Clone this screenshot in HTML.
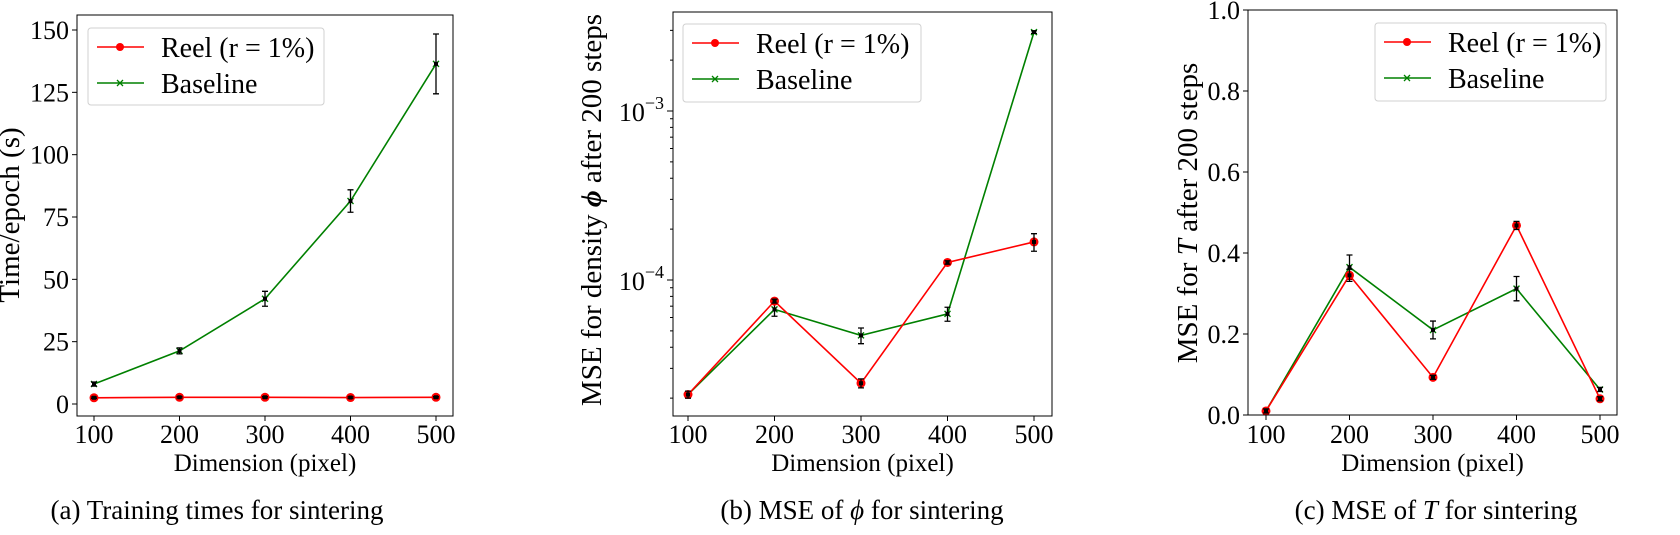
<!DOCTYPE html>
<html><head><meta charset="utf-8"><style>
body{margin:0;background:#fff;width:1680px;height:530px;overflow:hidden}
svg text{font-family:"Liberation Serif",serif;fill:#000}
.cap{font-family:"Liberation Serif",serif;font-size:27px}
</style></head><body>
<svg id="s" width="1680" height="530" xmlns="http://www.w3.org/2000/svg"></svg>
<script>
const dims=[100,200,300,400,500];
const aReel=[2.5,2.7,2.7,2.6,2.7];
const aReelErr=[0.3,0.3,0.3,0.3,0.3];
const aBase=[8,21.3,42.2,81.4,136.4];
const aBaseErr=[0.8,1.2,3,4.5,12];
const aTicks=[0,25,50,75,100,125,150];
const bReel=[2.1e-5,7.5e-5,2.45e-5,1.27e-4,1.68e-4];
const bReelErr=[0.1e-5,0.2e-5,0.15e-5,0.3e-5,0.2e-4];
const bBase=[2.1e-5,6.7e-5,4.7e-5,6.3e-5,2.93e-3];
const bBaseErr=[0.1e-5,0.6e-5,0.5e-5,0.6e-5,0.05e-3];
const cReel=[0.01,0.345,0.093,0.468,0.04];
const cReelErr=[0.005,0.015,0.005,0.01,0.005];
const cBase=[0.01,0.365,0.21,0.312,0.063];
const cBaseErr=[0.005,0.03,0.022,0.03,0.005];
const cTicks=[0,0.2,0.4,0.6,0.8,1.0];
const NS="http://www.w3.org/2000/svg";
const svg=document.getElementById('s');
function mk(tag,at,parent,txt){const e=document.createElementNS(NS,tag);for(const k in at)e.setAttribute(k,at[k]);if(txt!==undefined)e.textContent=txt;(parent||svg).appendChild(e);return e;}
function panel(P){
 const g=mk('g',{});
 
 
 const X=v=>P.x0+(v-100)/400*(P.x1-P.x0);
 const Y=P.Y;
 [[P.base,P.baseErr,'#008000','x','baseline'],[P.reel,P.reelErr,'#ff0000','o','reel']].forEach(([vals,errs,col,m,nm])=>{
  const pts=vals.map((v,i)=>X(dims[i])+','+Y(v)).join(' ');
  const l=mk('polyline',{points:pts,fill:'none',stroke:col,'stroke-width':1.6},g);
  
  
  vals.forEach((v,i)=>{
   const x=X(dims[i]),y=Y(v);
   if(m==='o'){const c=mk('circle',{cx:x,cy:y,r:4.5,fill:col},g);
     
     }
   else{const p=mk('path',{d:`M${x-3},${y-3}L${x+3},${y+3}M${x-3},${y+3}L${x+3},${y-3}`,stroke:col,'stroke-width':1.4},g);
     
     }
   const yt=Y(v+errs[i]),yb=Y(Math.max(v-errs[i],1e-9));
   const e=mk('path',{d:`M${x},${yt}L${x},${yb}M${x-3},${yt}L${x+3},${yt}M${x-3},${yb}L${x+3},${yb}`,stroke:'#000','stroke-width':1.3,fill:'none'},g);
   
   
   mk('rect',{x:x-2,y:y-2,width:4,height:4,fill:'#000'},g);
  });
 });
 const f=mk('rect',{x:P.L,y:P.T,width:P.R-P.L,height:P.B-P.T,fill:'none',stroke:'#000','stroke-width':1},g);
 
 
 dims.forEach(d=>{const x=X(d);mk('line',{x1:x,x2:x,y1:P.B,y2:P.B+5,stroke:'#000'},g);
  const t=mk('text',{x:x,y:443,'text-anchor':'middle','font-size':26},g,d);
  
  });
 P.yt(g);
 const xl=mk('text',{x:(P.L+P.R)/2,y:471,'text-anchor':'middle','font-size':25},g,'Dimension (pixel)');
 
 
 const yl=mk('text',{x:0,y:0,'text-anchor':'middle','font-size':29,transform:`translate(${P.ylx},${P.yly}) rotate(-90)`},g);
 yl.innerHTML=P.ylab;
 
 
 const lg=mk('g',{},g);
 
 
 const [lx,ly,lw,lh]=P.leg;
 mk('rect',{x:lx,y:ly,width:lw,height:lh,rx:3,fill:'#fff',stroke:'#d0d0d0'},lg);
 const e1=mk('g',{},lg);
 
 
 mk('line',{x1:lx+9,x2:lx+56,y1:ly+19,y2:ly+19,stroke:'#ff0000','stroke-width':1.6},e1);
 mk('circle',{cx:lx+32,cy:ly+19,r:4,fill:'#ff0000'},e1);
 mk('text',{x:lx+73,y:ly+29,'font-size':28},e1,'Reel (r = 1%)');
 const e2=mk('g',{},lg);
 
 
 mk('line',{x1:lx+9,x2:lx+56,y1:ly+55,y2:ly+55,stroke:'#008000','stroke-width':1.6},e2);
 mk('path',{d:`M${lx+29},${ly+52}L${lx+35},${ly+58}M${lx+29},${ly+58}L${lx+35},${ly+52}`,stroke:'#008000','stroke-width':1.3},e2);
 mk('text',{x:lx+73,y:ly+65,'font-size':28},e2,'Baseline');
 const cp=mk('text',{x:P.capx,y:519,'text-anchor':'middle',class:'cap'},g);
 cp.innerHTML=P.cap;
 
 
}
const Ya=v=>404-v*(374/150);
panel({name:'panel-training-time',L:77,T:15,R:453,B:416,x0:94,x1:436,Y:Ya,
 reel:aReel,reelErr:aReelErr,base:aBase,baseErr:aBaseErr,
 yt:g=>aTicks.forEach(t=>{const y=Ya(t);mk('line',{x1:72,x2:77,y1:y,y2:y,stroke:'#000'},g);
   const e=mk('text',{x:69,y:y+9,'text-anchor':'end','font-size':26},g,t);
   
   }),
 ylx:19,yly:215,ylab:'Time/epoch (s)',leg:[88,28,236,77],capx:217,cap:'(a) Training times for sintering'});
const Yb=v=>280-(Math.log10(v)+4)*169;
panel({name:'panel-mse-phi',L:673,T:12,R:1052,B:416,x0:688,x1:1034,Y:Yb,
 reel:bReel,reelErr:bReelErr,base:bBase,baseErr:bBaseErr,
 yt:g=>{[-4,-3].forEach(p=>{const y=Yb(Math.pow(10,p));mk('line',{x1:667,x2:673,y1:y,y2:y,stroke:'#000'},g);
   const e=mk('text',{x:664,y:y+10,'text-anchor':'end','font-size':26},g);
   e.innerHTML=`10<tspan dy="-12" font-size="18">\u2212${-p}</tspan>`;
   
   });
  [2,3,4,5,6,7,8,9].forEach(m=>[-5,-4,-3].forEach(p=>{const v=m*Math.pow(10,p),y=Yb(v);if(y>12&&y<416)mk('line',{x1:670,x2:673,y1:y,y2:y,stroke:'#000'},g);}));},
 ylx:601,yly:210,ylab:'MSE for density <tspan font-style="italic" font-weight="bold">ϕ</tspan> after 200 steps',leg:[683,24,238,78],capx:862,cap:'(b) MSE of <tspan font-style="italic">ϕ</tspan> for sintering'});
const Yc=v=>415-v*405;
panel({name:'panel-mse-t',L:1248,T:10,R:1617,B:415,x0:1266,x1:1600,Y:Yc,
 reel:cReel,reelErr:cReelErr,base:cBase,baseErr:cBaseErr,
 yt:g=>cTicks.forEach(t=>{const y=Yc(t);mk('line',{x1:1243,x2:1248,y1:y,y2:y,stroke:'#000'},g);
   const e=mk('text',{x:1240,y:y+9,'text-anchor':'end','font-size':26},g,t.toFixed(1));
   
   }),
 ylx:1197,yly:213,ylab:'MSE for <tspan font-style="italic">T</tspan> after 200 steps',leg:[1375,23,231,78],capx:1436,cap:'(c) MSE of <tspan font-style="italic">T</tspan> for sintering'});
</script>
</body></html>
